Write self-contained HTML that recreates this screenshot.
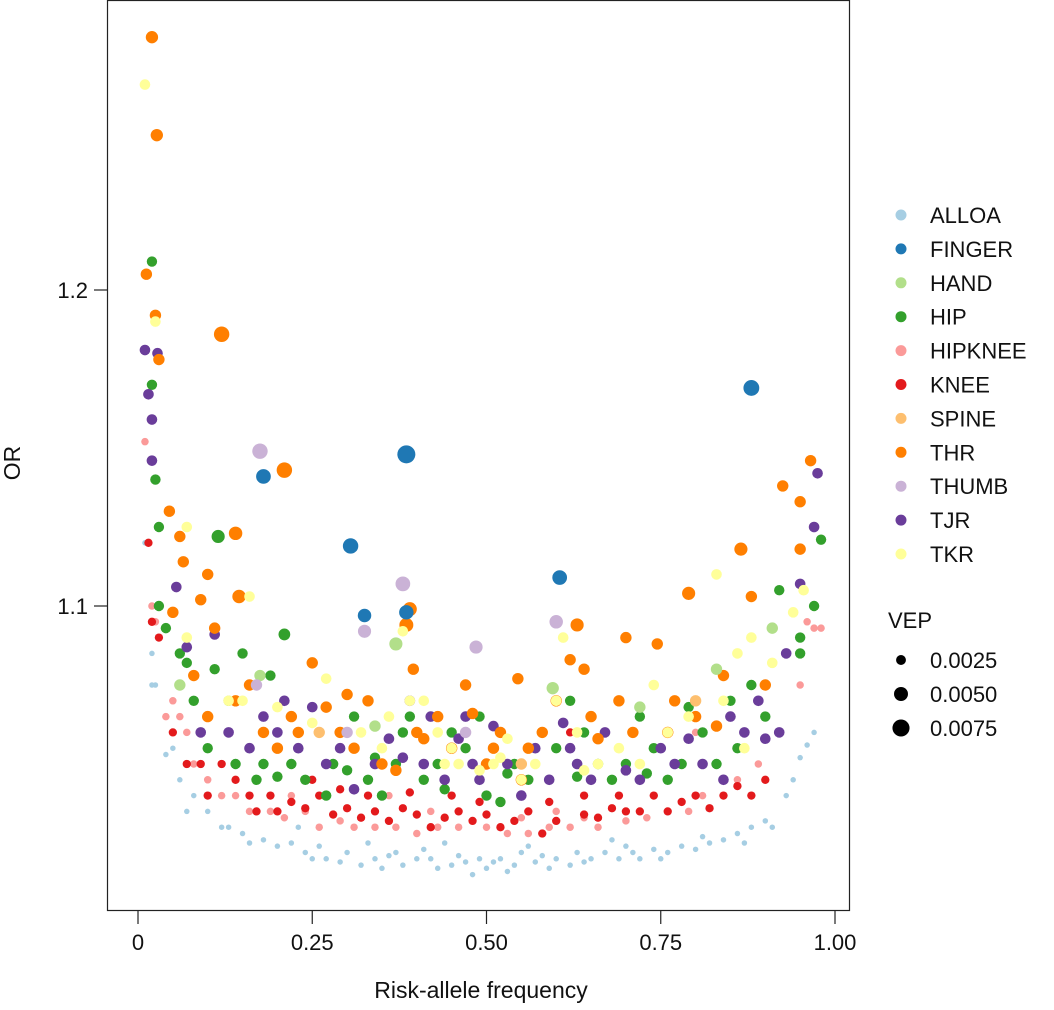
<!DOCTYPE html>
<html><head><meta charset="utf-8"><style>
body{margin:0;background:#fff}
text{font-family:"Liberation Sans",Arial,sans-serif;fill:#111}
</style></head><body>
<svg id="chart" width="1054" height="1005" viewBox="0 0 1054 1005" xmlns="http://www.w3.org/2000/svg">
<g id="points"></g>
<rect x="107.5" y="0.5" width="742" height="910" fill="none" stroke="#222" stroke-width="1.2"/>
<g id="axes"></g>
<text transform="translate(20,463) rotate(-90)" text-anchor="middle" font-size="23">OR</text>
<text x="481" y="998" text-anchor="middle" font-size="23">Risk-allele frequency</text>
<g id="legend"></g>
</svg>
<script>
const xTicks=[0,0.25,0.5,0.75,1.0];
const xTickLabels=["0","0.25","0.50","0.75","1.00"];
const yTicks=[1.1,1.2];
const yTickLabels=["1.1","1.2"];
const categories=["ALLOA","FINGER","HAND","HIP","HIPKNEE","KNEE","SPINE","THR","THUMB","TJR","TKR"];
const catColors=["#A6CEE3","#1F78B4","#B2DF8A","#33A02C","#FB9A99","#E31A1C","#FDBF6F","#FF7F00","#CAB2D6","#6A3D9A","#FFFF99"];
const vepLegend=[0.0025,0.0050,0.0075];
const vepLegendLabels=["0.0025","0.0050","0.0075"];
const defaultVep={ALLOA:0.0007,HIPKNEE:0.0013,KNEE:0.0016,HIP:0.0025,TJR:0.0026,TKR:0.0026,THR:0.003,HAND:0.003,SPINE:0.003,THUMB:0.003,FINGER:0.003};
const ALLOA=[[0.02,1.085],[0.02,1.075],[0.025,1.075],[0.01,1.12],[0.04,1.053],[0.05,1.055],[0.06,1.045],[0.07,1.035],[0.08,1.04],[0.1,1.035],[0.12,1.03],[0.13,1.03],[0.15,1.028],[0.16,1.025],[0.18,1.026],[0.2,1.024],[0.22,1.025],[0.24,1.022],[0.25,1.02],[0.27,1.02],[0.29,1.019],[0.3,1.022],[0.32,1.018],[0.34,1.02],[0.35,1.017],[0.37,1.022],[0.38,1.018],[0.4,1.02],[0.42,1.02],[0.43,1.017],[0.45,1.018],[0.47,1.019],[0.49,1.02],[0.5,1.017],[0.52,1.02],[0.54,1.018],[0.55,1.022],[0.57,1.019],[0.59,1.017],[0.6,1.02],[0.62,1.018],[0.63,1.022],[0.65,1.02],[0.67,1.022],[0.69,1.02],[0.71,1.022],[0.72,1.02],[0.74,1.023],[0.76,1.022],[0.78,1.024],[0.8,1.023],[0.82,1.025],[0.84,1.026],[0.86,1.028],[0.88,1.03],[0.9,1.032],[0.91,1.03],[0.93,1.04],[0.95,1.052],[0.96,1.056],[0.97,1.06],[0.94,1.045],[0.44,1.025],[0.33,1.025],[0.56,1.024],[0.68,1.026],[0.23,1.03],[0.48,1.015],[0.53,1.016],[0.26,1.024],[0.36,1.021],[0.41,1.023],[0.46,1.021],[0.51,1.019],[0.58,1.021],[0.64,1.019],[0.7,1.024],[0.75,1.02],[0.81,1.027],[0.87,1.025]];
const HIPKNEE=[[0.01,1.152],[0.02,1.1],[0.025,1.095],[0.03,1.09],[0.04,1.065],[0.05,1.07],[0.06,1.065],[0.07,1.06],[0.08,1.05],[0.1,1.045],[0.12,1.04],[0.14,1.04],[0.16,1.035],[0.19,1.035],[0.21,1.033],[0.24,1.035],[0.26,1.03],[0.29,1.032],[0.31,1.03],[0.34,1.03],[0.37,1.03],[0.4,1.028],[0.43,1.03],[0.46,1.03],[0.5,1.03],[0.53,1.028],[0.56,1.028],[0.59,1.03],[0.62,1.03],[0.64,1.033],[0.66,1.03],[0.7,1.032],[0.73,1.033],[0.76,1.035],[0.79,1.035],[0.81,1.04],[0.84,1.04],[0.86,1.045],[0.89,1.05],[0.92,1.06],[0.95,1.075],[0.97,1.093],[0.98,1.093],[0.96,1.095],[0.3,1.06],[0.36,1.04],[0.6,1.035],[0.8,1.06],[0.22,1.04],[0.42,1.035],[0.55,1.033],[0.68,1.036]];
const KNEE=[[0.015,1.12],[0.02,1.095],[0.03,1.09],[0.05,1.06],[0.07,1.05],[0.09,1.05],[0.1,1.04],[0.12,1.05],[0.14,1.045],[0.16,1.04],[0.17,1.035],[0.19,1.04],[0.2,1.035],[0.22,1.038],[0.24,1.036],[0.26,1.04],[0.28,1.034],[0.3,1.036],[0.32,1.033],[0.34,1.035],[0.36,1.032],[0.38,1.036],[0.4,1.034],[0.42,1.03],[0.44,1.033],[0.46,1.035],[0.48,1.032],[0.5,1.034],[0.52,1.03],[0.54,1.032],[0.56,1.035],[0.58,1.028],[0.6,1.032],[0.62,1.06],[0.64,1.034],[0.66,1.033],[0.68,1.036],[0.7,1.035],[0.72,1.035],[0.74,1.04],[0.76,1.035],[0.78,1.038],[0.8,1.04],[0.82,1.036],[0.84,1.04],[0.86,1.043],[0.88,1.04],[0.9,1.045],[0.87,1.06],[0.64,1.04],[0.45,1.04],[0.25,1.045],[0.33,1.04],[0.55,1.04],[0.29,1.042],[0.39,1.041],[0.49,1.038],[0.59,1.038],[0.69,1.04]];
const HIP=[[0.02,1.209],[0.02,1.17],[0.025,1.14],[0.03,1.125],[0.03,1.1],[0.04,1.093],[0.06,1.085],[0.07,1.082],[0.08,1.07],[0.11,1.08],[0.115,1.122,0.004],[0.13,1.07],[0.14,1.05],[0.15,1.085],[0.17,1.045],[0.19,1.078],[0.21,1.091,0.0032],[0.22,1.05],[0.24,1.045],[0.26,1.06],[0.28,1.05],[0.3,1.048],[0.31,1.065],[0.33,1.045],[0.35,1.04],[0.37,1.05],[0.38,1.06],[0.39,1.065],[0.41,1.045],[0.43,1.05],[0.45,1.06],[0.47,1.055],[0.5,1.04],[0.52,1.038],[0.54,1.05],[0.56,1.045],[0.58,1.06],[0.6,1.055],[0.62,1.07],[0.64,1.06],[0.66,1.05],[0.68,1.045],[0.7,1.05],[0.72,1.065],[0.74,1.055],[0.76,1.045],[0.78,1.05],[0.79,1.068],[0.81,1.06],[0.83,1.05],[0.85,1.07],[0.88,1.075],[0.9,1.065],[0.92,1.105],[0.95,1.09],[0.95,1.085],[0.97,1.1],[0.98,1.121],[0.49,1.065],[0.27,1.04],[0.18,1.05],[0.1,1.055],[0.2,1.046],[0.34,1.052],[0.44,1.042],[0.53,1.047],[0.63,1.046],[0.73,1.047],[0.86,1.055]];
const TJR=[[0.01,1.181],[0.015,1.167],[0.02,1.159],[0.02,1.146],[0.028,1.18],[0.055,1.106],[0.07,1.087],[0.11,1.091],[0.09,1.06],[0.13,1.06],[0.16,1.055],[0.18,1.065],[0.21,1.07],[0.23,1.055],[0.25,1.068],[0.27,1.05],[0.29,1.055],[0.31,1.042],[0.34,1.05],[0.36,1.058],[0.39,1.07],[0.41,1.05],[0.42,1.065],[0.44,1.045],[0.46,1.058],[0.47,1.065],[0.49,1.045],[0.51,1.062],[0.53,1.05],[0.55,1.04],[0.57,1.055],[0.59,1.045],[0.61,1.063],[0.63,1.05],[0.65,1.045],[0.67,1.06],[0.7,1.048],[0.72,1.045],[0.75,1.055],[0.77,1.05],[0.79,1.058],[0.81,1.05],[0.83,1.062],[0.85,1.065],[0.87,1.06],[0.89,1.07],[0.9,1.058],[0.93,1.085],[0.95,1.107],[0.97,1.125],[0.975,1.142],[0.92,1.06],[0.84,1.045],[0.2,1.06],[0.38,1.052],[0.48,1.05],[0.62,1.055]];
const THR=[[0.02,1.28,0.0035],[0.027,1.249,0.0035],[0.012,1.205],[0.025,1.192],[0.03,1.178],[0.045,1.13],[0.06,1.122],[0.065,1.114],[0.05,1.098],[0.09,1.102],[0.1,1.11],[0.11,1.093],[0.12,1.186,0.0055],[0.14,1.123,0.0042],[0.145,1.103,0.0042],[0.21,1.143,0.0055],[0.08,1.078],[0.1,1.065],[0.14,1.07],[0.16,1.075],[0.18,1.06],[0.2,1.055],[0.23,1.06],[0.25,1.082],[0.27,1.068],[0.29,1.06],[0.31,1.055],[0.33,1.07],[0.35,1.05],[0.385,1.094,0.0045],[0.39,1.099,0.0045],[0.395,1.08],[0.4,1.06],[0.43,1.065],[0.45,1.055],[0.47,1.075],[0.48,1.066],[0.5,1.05],[0.52,1.06],[0.545,1.077],[0.56,1.055],[0.6,1.07],[0.62,1.083],[0.63,1.094,0.004],[0.64,1.08],[0.66,1.058],[0.69,1.07],[0.71,1.06],[0.745,1.088],[0.77,1.07],[0.79,1.104,0.004],[0.8,1.065],[0.83,1.062],[0.84,1.078],[0.865,1.118,0.004],[0.88,1.103],[0.9,1.075],[0.925,1.138],[0.95,1.133],[0.965,1.146],[0.95,1.118],[0.7,1.09],[0.37,1.048],[0.55,1.045],[0.58,1.06],[0.22,1.065],[0.3,1.072],[0.41,1.058],[0.51,1.055],[0.65,1.065],[0.76,1.06]];
const TKR=[[0.01,1.265],[0.025,1.19],[0.07,1.125],[0.07,1.09],[0.16,1.103],[0.15,1.07],[0.13,1.07],[0.2,1.068],[0.25,1.063],[0.27,1.077],[0.32,1.06],[0.35,1.055],[0.38,1.092],[0.39,1.07],[0.41,1.07],[0.43,1.06],[0.44,1.05],[0.47,1.06],[0.49,1.048],[0.51,1.05],[0.53,1.058],[0.57,1.05],[0.61,1.09],[0.6,1.07],[0.63,1.06],[0.66,1.05],[0.69,1.055],[0.72,1.05],[0.74,1.075],[0.76,1.06],[0.79,1.065],[0.83,1.11],[0.84,1.07],[0.86,1.085],[0.88,1.09],[0.91,1.082],[0.94,1.098],[0.955,1.105],[0.87,1.055],[0.55,1.045],[0.45,1.055],[0.36,1.065],[0.46,1.05],[0.52,1.052],[0.64,1.048]];
const HAND=[[0.37,1.088,0.004],[0.595,1.074,0.0035],[0.91,1.093,0.003],[0.83,1.08],[0.72,1.068],[0.34,1.062],[0.06,1.075],[0.175,1.078]];
const SPINE=[[0.26,1.06],[0.55,1.05],[0.8,1.07]];
const THUMB=[[0.175,1.149,0.0055],[0.38,1.107,0.005],[0.325,1.092,0.004],[0.485,1.087,0.004],[0.6,1.095,0.0042],[0.17,1.075],[0.47,1.06],[0.3,1.06]];
const FINGER=[[0.18,1.141,0.005],[0.305,1.119,0.0055],[0.325,1.097,0.0042],[0.385,1.148,0.0075],[0.385,1.098,0.0048],[0.605,1.109,0.005],[0.88,1.169,0.0058]];
const seriesByCat={ALLOA,FINGER,HAND,HIP,HIPKNEE,KNEE,SPINE,THR,THUMB,TJR,TKR};
const drawOrder=["ALLOA","HIPKNEE","KNEE","HIP","TJR","THR","TKR","HAND","SPINE","THUMB","FINGER"];

const NS="http://www.w3.org/2000/svg";
function xScale(v){return 138+v*697;}
function yScale(v){return 922-(v-1)*3160;}
function rScale(v){return Math.sqrt(v)*104;}
function mk(tag,attrs,parent){const e=document.createElementNS(NS,tag);for(const k in attrs)e.setAttribute(k,attrs[k]);parent.appendChild(e);return e;}

const pts=document.getElementById('points');
drawOrder.forEach(cat=>{
  const col=catColors[categories.indexOf(cat)];
  seriesByCat[cat].forEach((p,i)=>{
    const vep=p[2]!==undefined?p[2]:defaultVep[cat];
    const c=mk('circle',{cx:xScale(p[0]),cy:yScale(p[1]),r:rScale(vep),fill:col},pts);
    
    
  });
});

const ax=document.getElementById('axes');
xTicks.forEach((t,i)=>{
  const l=mk('line',{x1:xScale(t),x2:xScale(t),y1:911,y2:924,stroke:'#222','stroke-width':1.2},ax);
  
  
  const tx=mk('text',{x:xScale(t),y:950,'text-anchor':'middle','font-size':22},ax);
  tx.textContent=xTickLabels[i];
  
  
});
yTicks.forEach((t,i)=>{
  const l=mk('line',{x1:94,x2:107,y1:yScale(t),y2:yScale(t),stroke:'#222','stroke-width':1.2},ax);
  
  
  const tx=mk('text',{x:88,y:yScale(t)+8,'text-anchor':'end','font-size':22},ax);
  tx.textContent=yTickLabels[i];
  
  
});

const lg=document.getElementById('legend');
categories.forEach((c,i)=>{
  const y=215+i*33.9;
  const d=mk('circle',{cx:901,cy:y,r:5.5,fill:catColors[i]},lg);
  
  
  const t=mk('text',{x:930,y:y+8,'font-size':22},lg);
  t.textContent=c;
  
  
});
const vt=mk('text',{x:888,y:628,'font-size':22},lg);
vt.textContent='VEP';


vepLegend.forEach((v,i)=>{
  const y=660+i*34;
  const d=mk('circle',{cx:901,cy:y,r:rScale(v)*0.95,fill:'#000'},lg);
  
  
  const t=mk('text',{x:930,y:y+8,'font-size':22},lg);
  t.textContent=vepLegendLabels[i];
  
  
});
</script>
</body></html>
